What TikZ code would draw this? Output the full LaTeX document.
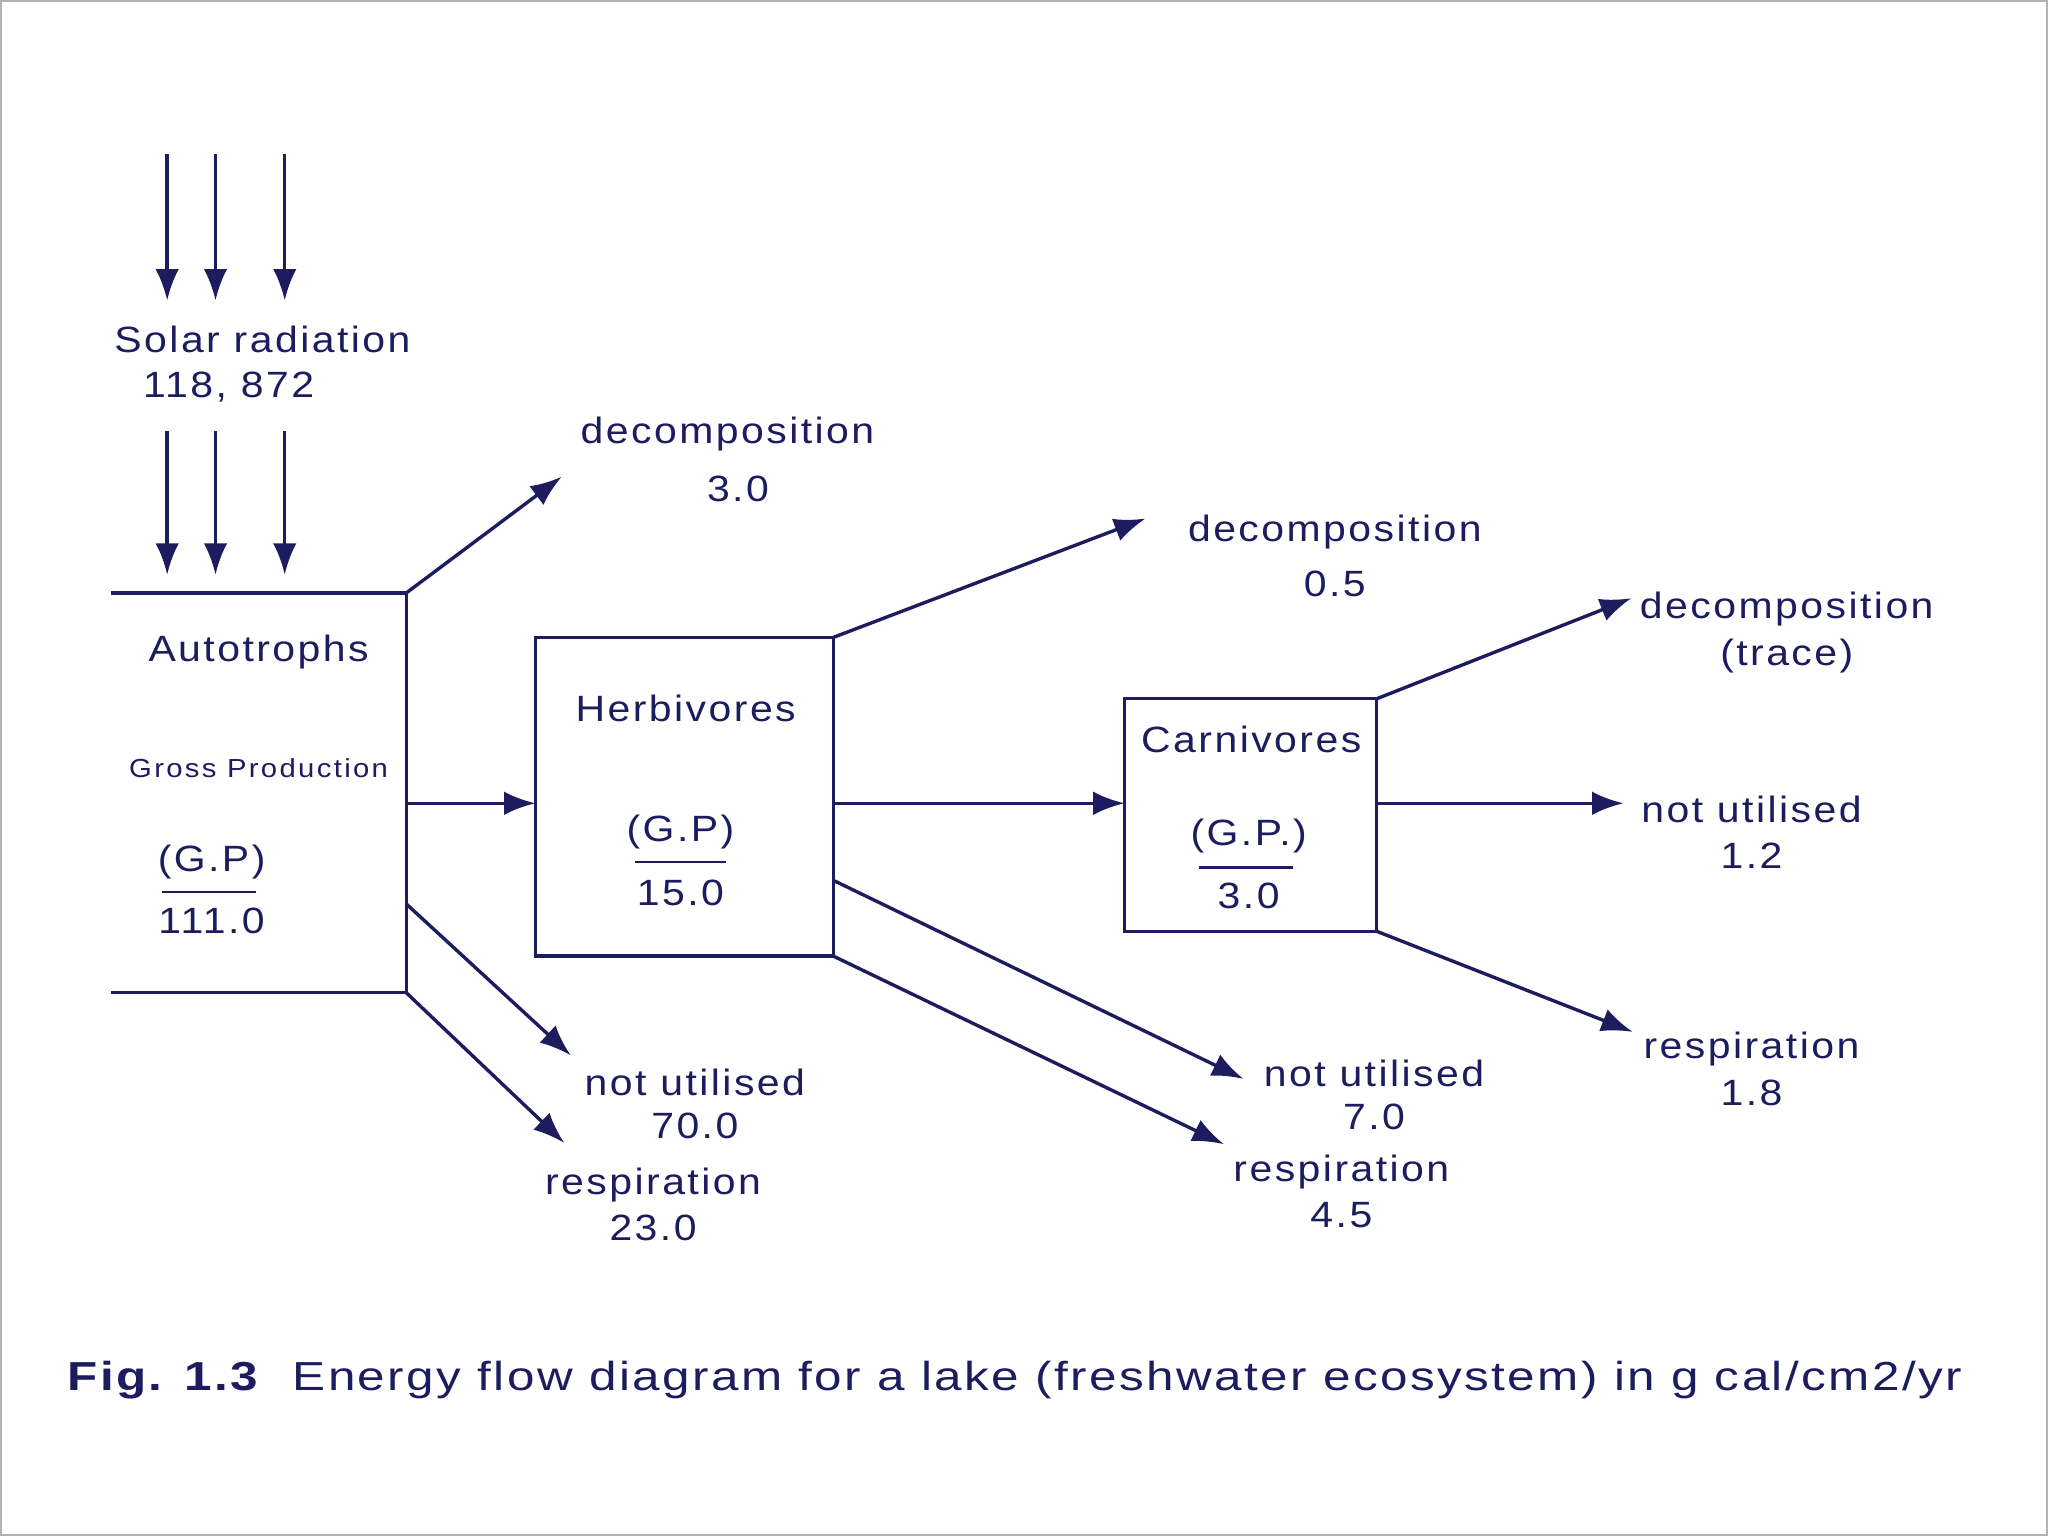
\documentclass[tikz,border=0pt]{standalone}
\usepackage{fontspec}
\setmainfont{Liberation Sans}
\usetikzlibrary{arrows.meta}
\definecolor{ink}{HTML}{1C1C5E}
\begin{document}
\begin{tikzpicture}[x=1pt,y=-1pt,
  ln/.style={draw=ink,line width=2.6pt},
  ar/.style={ln,-{Latex[length=24pt,width=18pt]}},
  lab/.style={text=ink,font=\fontsize{28}{33}\selectfont\addfontfeature{LetterSpace=6},align=center,inner sep=0pt,xscale=1.12},
  small/.style={text=ink,font=\fontsize{20}{24}\selectfont\addfontfeature{LetterSpace=8},inner sep=0pt,xscale=1.12},
  bx/.style={ln,draw=ink}]
\useasboundingbox (0,0) rectangle (1568,1176);
\draw[gray!60,line width=1.5pt] (1,1) rectangle (1567,1175);
% solar arrows
\foreach \x/\n in {128/a,165/b,218/c}{
  \coordinate (s1\n) at (\x,118); \coordinate (s2\n) at (\x,230);
  \coordinate (s3\n) at (\x,330); \coordinate (s4\n) at (\x,440);
  \draw[ar] (s1\n) -- (s2\n); \draw[ar] (s3\n) -- (s4\n);}
\node[lab] (sol) at (201,260) {Solar radiation};
\node[lab] (soln) at (175,296) {118, 872};
% autotrophs
\coordinate (atl) at (85,454); \coordinate (atr) at (311,454);
\coordinate (abl) at (85,760); \coordinate (abr) at (311,760);
\draw[ln] (atl) -- (atr) -- (abr) -- (abl);
\node[lab] (aut) at (198,499) {Autotrophs};
\node[small] (gp) at (198,588) {Gross Production};
\node[lab] (agp) at (162,660) {(G.P)};
\draw[ln,line width=2pt] (124,683) -- (196,683);
\node[lab] (av) at (162,705) {111.0};
\coordinate (am) at (311,615); \coordinate (an) at (311,692);
% herbivores
\draw[bx] (410,488) rectangle (638,732);
\coordinate (hl) at (410,615); \coordinate (htr) at (638,488);
\coordinate (hr) at (638,615); \coordinate (hn) at (638,674); \coordinate (hbr) at (638,732);
\node[lab] (her) at (525,542) {Herbivores};
\node[lab] (hgp) at (521,637) {(G.P)};
\draw[ln,line width=2pt] (486,660) -- (556,660);
\node[lab] (hv) at (521,684) {15.0};
% carnivores
\draw[bx] (861,535) rectangle (1054,713);
\coordinate (cl) at (861,615); \coordinate (ctr) at (1054,535);
\coordinate (cr) at (1054,615); \coordinate (cbr) at (1054,713);
\node[lab] (car) at (958,566) {Carnivores};
\node[lab] (cgp) at (956,640) {(G.P.)};
\draw[ln,line width=2pt] (918,664) -- (990,664);
\node[lab] (cv) at (956,686) {3.0};
% end coordinates
\coordinate (e1) at (430,365); \coordinate (e2) at (437,808); \coordinate (e3) at (432,875);
\coordinate (e4) at (877,397); \coordinate (e5) at (952,826); \coordinate (e6) at (937,876);
\coordinate (e7) at (1249,458); \coordinate (e8) at (1243,615); \coordinate (e9) at (1250,790);
\draw[ar] (atr) -- (e1);
\draw[ar] (am) -- (hl);
\draw[ar] (an) -- (e2);
\draw[ar] (abr) -- (e3);
\draw[ar] (htr) -- (e4);
\draw[ar] (hr) -- (cl);
\draw[ar] (hn) -- (e5);
\draw[ar] (hbr) -- (e6);
\draw[ar] (ctr) -- (e7);
\draw[ar] (cr) -- (e8);
\draw[ar] (cbr) -- (e9);
% labels
\node[lab] (d1) at (557,332) {decomposition}; \node[lab] (d1v) at (565,374) {3.0};
\node[lab] (n1) at (532,829) {not utilised}; \node[lab] (n1v) at (532,862) {70.0};
\node[lab] (r1) at (500,907) {respiration}; \node[lab] (r1v) at (500,940) {23.0};
\node[lab] (d2) at (1022,407) {decomposition}; \node[lab] (d2v) at (1022,447) {0.5};
\node[lab] (n2) at (1052,822) {not utilised}; \node[lab] (n2v) at (1052,855) {7.0};
\node[lab] (r2) at (1027,897) {respiration}; \node[lab] (r2v) at (1027,930) {4.5};
\node[lab] (d3) at (1368,466) {decomposition}; \node[lab] (d3v) at (1368,502) {(trace)};
\node[lab] (n3) at (1341,620) {not utilised}; \node[lab] (n3v) at (1341,655) {1.2};
\node[lab] (r3) at (1341,803) {respiration}; \node[lab] (r3v) at (1341,837) {1.8};
\node[text=ink,inner sep=0pt,font=\fontsize{31}{34}\selectfont\addfontfeature{LetterSpace=5},xscale=1.22] (cap) at (777,1057) {\textbf{Fig. 1.3}\ \ Energy flow diagram for a lake (freshwater ecosystem) in g cal/cm2/yr};
\end{tikzpicture}
\end{document}
